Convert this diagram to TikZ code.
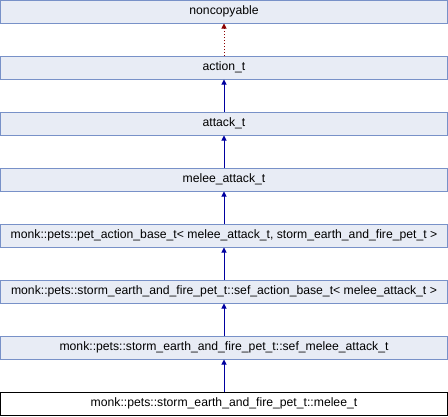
\documentclass[tikz,border=0pt]{standalone}
\usepackage{fontspec}
\setmainfont{Liberation Sans}
\usetikzlibrary{arrows.meta}
\definecolor{boxfill}{RGB}{232,236,245}
\definecolor{boxdraw}{RGB}{120,145,200}
\definecolor{inhblue}{RGB}{0,0,160}
\definecolor{privred}{RGB}{139,0,0}
\begin{document}
\begin{tikzpicture}[x=1pt,y=-1pt,
  cls/.style={draw=boxdraw,fill=boxfill,line width=1pt,minimum width=447pt,minimum height=22.5pt,inner sep=0pt,font=\fontsize{12.2}{14}\selectfont},
  cur/.style={cls,draw=black,fill=white},
  inh/.style={draw=inhblue,line width=1pt,-{Triangle[length=5pt,width=5pt]}},
  priv/.style={draw=privred,line width=1pt,dotted,-{Triangle[length=5pt,width=5pt]}}]
\useasboundingbox (0,0) rectangle (448,416);
\node[cls] (n0) at (224,11.75) {noncopyable};
\node[cls] (n1) at (224,67.75) {action\_t};
\node[cls] (n2) at (224,123.75) {attack\_t};
\node[cls] (n3) at (224,179.75) {melee\_attack\_t};
\node[cls] (n4) at (224,235.75) {monk::pets::pet\_action\_base\_t< melee\_attack\_t, storm\_earth\_and\_fire\_pet\_t >};
\node[cls] (n5) at (224,291.75) {monk::pets::storm\_earth\_and\_fire\_pet\_t::sef\_action\_base\_t< melee\_attack\_t >};
\node[cls] (n6) at (224,347.75) {monk::pets::storm\_earth\_and\_fire\_pet\_t::sef\_melee\_attack\_t};
\node[cur] (n7) at (224,403.75) {monk::pets::storm\_earth\_and\_fire\_pet\_t::melee\_t};
\draw[priv] (n1.north) -- (n0.south);
\draw[inh] (n2.north) -- (n1.south);
\draw[inh] (n3.north) -- (n2.south);
\draw[inh] (n4.north) -- (n3.south);
\draw[inh] (n5.north) -- (n4.south);
\draw[inh] (n6.north) -- (n5.south);
\draw[inh] (n7.north) -- (n6.south);
\end{tikzpicture}
\end{document}
